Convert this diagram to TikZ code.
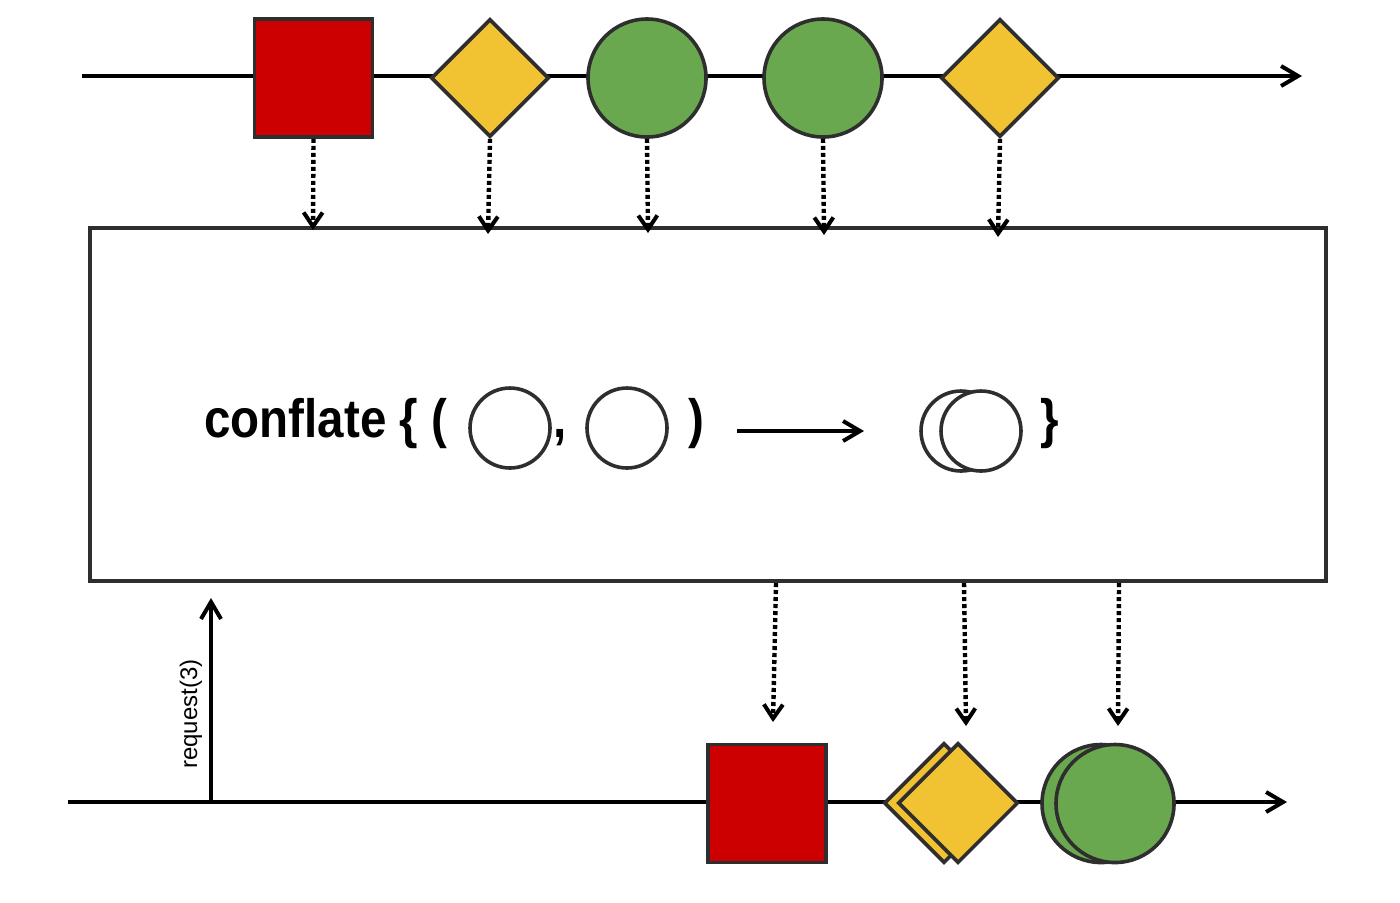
\documentclass[tikz,border=0pt]{standalone}
\usepackage{fontspec}
\usepackage{graphicx}
\setmainfont{Liberation Sans}
\usetikzlibrary{arrows.meta,shapes.geometric}
\definecolor{cred}{HTML}{CC0000}
\definecolor{cyel}{HTML}{F1C232}
\definecolor{cgrn}{HTML}{6AA84F}
\definecolor{cedge}{HTML}{2E2E2E}
\tikzset{
  axis/.style={line width=2pt, black, -{Straight Barb[length=8.5pt,width=10pt,line width=2pt]}},
  shp/.style={draw=cedge, line width=1.8pt, inner sep=0pt},
  sq/.style={shp, rectangle, fill=cred, minimum width=59pt, minimum height=59pt},
  dia/.style={shp, diamond, fill=cyel, minimum width=59pt, minimum height=59pt},
  circ/.style={shp, circle, fill=cgrn, minimum size=59pt},
  ocirc/.style={shp, circle, fill=white, minimum size=40pt},
  dotarrow/.style={line width=2.2pt, dash pattern=on 2pt off 1.5pt, -{Straight Barb[length=7pt,width=9.5pt,line width=2pt]}},
  bigtxt/.style={inner sep=0pt, font=\bfseries\fontsize{27}{30}\selectfont},
}
\newcommand{\cnd}[1]{\scalebox{0.88}[1]{#1}}
\begin{document}
\begin{tikzpicture}[x=0.5pt,y=-0.5pt]
\useasboundingbox (0,0) rectangle (1400,902);
% top timeline
\coordinate (tl) at (82,76);
\coordinate (tr) at (1302,76);
\draw[axis] (tl) -- (tr);
\node[sq] (s1) at (313.5,78) {};
\node[dia] (d1) at (490,78) {};
\node[circ] (c1) at (647,78) {};
\node[circ] (c2) at (823,78) {};
\node[dia] (d2) at (1000,78) {};
% operator box
\node[draw=cedge, line width=1.7pt, minimum width=618pt, minimum height=176.5pt, inner sep=0pt] (box) at (708,404.5) {};
% dotted arrows down into box
\coordinate (e1) at (313,230);
\coordinate (e2) at (488,234);
\coordinate (e3) at (648,233);
\coordinate (e4) at (824,235);
\coordinate (e5) at (998,237);
\draw[dotarrow] (s1.south) -- (e1);
\draw[dotarrow] (d1.south) -- (e2);
\draw[dotarrow] (c1.south) -- (e3);
\draw[dotarrow] (c2.south) -- (e4);
\draw[dotarrow] (d2.south) -- (e5);
% box content
\node[bigtxt, anchor=base west] (t1) at (204,437) {\cnd{conflate \{ (}};
\node[ocirc] (o1) at (510,428) {};
\node[bigtxt, anchor=base west] (t2) at (553,437) {\cnd{,}};
\node[ocirc] (o2) at (627,428) {};
\node[bigtxt, anchor=base west] (t3) at (688,437) {\cnd{)}};
\coordinate (a0) at (737,431);
\coordinate (a1) at (864,431);
\draw[axis] (a0) -- (a1);
\node[ocirc] (o3) at (961,431) {};
\node[ocirc] (o4) at (981,431) {};
\node[bigtxt, anchor=base west] (t4) at (1040,437) {\cnd{\}}};
% bottom timeline
\coordinate (bl) at (68,802);
\coordinate (br) at (1287,802);
\draw[axis] (bl) -- (br);
\coordinate (r0) at (211,800);
\coordinate (r1) at (211,598);
\draw[axis] (r0) -- (r1);
\node[rotate=90, inner sep=0pt, font=\fontsize{12}{14}\selectfont] (rq) at (191,714) {request(3)};
\node[sq] (s2) at (767,803.5) {};
\node[dia, minimum width=60pt, minimum height=60pt] (d3) at (944,803) {};
\node[dia, minimum width=60pt, minimum height=60pt] (d4) at (958,803) {};
\node[circ] (c3) at (1101,803.5) {};
\node[circ] (c4) at (1115,803.5) {};
% dotted arrows out of box
\coordinate (f1s) at (776,583);
\coordinate (f1) at (773,722);
\coordinate (f2s) at (964,583);
\coordinate (f2) at (966,726);
\coordinate (f3s) at (1119,583);
\coordinate (f3) at (1118,726);
\draw[dotarrow] (f1s) -- (f1);
\draw[dotarrow] (f2s) -- (f2);
\draw[dotarrow] (f3s) -- (f3);
\end{tikzpicture}
\end{document}
